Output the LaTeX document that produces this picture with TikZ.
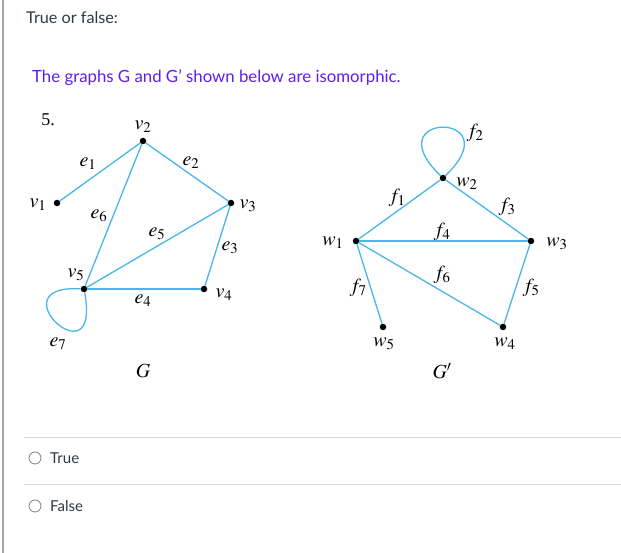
\documentclass[tikz,border=0pt]{standalone}
\usepackage{mathptmx}
\usepackage{fontspec}
\setmainfont{Lato}
\newfontfamily\timesfont{Liberation Serif}
\definecolor{edgeblue}{RGB}{72,182,232}
\definecolor{qblue}{RGB}{95,30,240}
\definecolor{rulegray}{RGB}{218,218,218}
\definecolor{textgray}{RGB}{45,59,69}

\begin{document}
\begin{tikzpicture}[x=1pt,y=-1pt,
	dot/.style={circle,fill=black,inner sep=0pt,minimum size=6.5pt},
	edge/.style={color=edgeblue,line width=1.3pt},
	lbl/.style={font=\fontsize{20}{22}\selectfont,inner sep=0pt},
	radio/.style={circle,draw=gray,line width=0.8pt,minimum size=12pt,inner sep=0pt}]

\useasboundingbox (0,0) rectangle (621,553);
\fill[white] (0,0) rectangle (621,553);
\draw[color=gray!70,line width=1.5pt] (3,0) -- (3,553);

% question text
\node[anchor=base west,inner sep=0pt,text=textgray,font=\fontsize{16.2}{19}\selectfont] (title) at (26,24) {True or false:};
\node[anchor=base west,inner sep=0pt,text=qblue,font=\fontsize{16.8}{19}\selectfont] (claim) at (32,83) {The graphs G and G' shown below are isomorphic.};

% graph G
\node[font=\timesfont\fontsize{18}{20}\selectfont] (num) at (48,120) {5.};

\foreach \n/\x/\y in {v1/57/203,v2/143/141,v3/231/203,v4/204/289,v5/84/289}
{
	\node[dot] (\n) at (\x,\y) {};
}

\foreach \n/\x/\y/\t in {lv1/38/205/v_1,lv2/143/127/v_2,lv3/248/206/v_3,lv4/224/295/v_4,lv5/76/275/v_5}
{
	\node[lbl] (\n) at (\x,\y) {$\t$};
}

\draw[edge] (v1) -- (v2);
\draw[edge] (v2) -- (v3);
\draw[edge] (v3) -- (v4);
\draw[edge] (v4) -- (v5);
\draw[edge] (v5) -- (v3);
\draw[edge] (v5) -- (v2);
\draw[edge] (v5) .. controls +(-90,-5) and +(18,95) .. (v5);

\foreach \n/\x/\y/\t in {le1/88/164/e_1,le2/191/163/e_2,le3/230/248/e_3,le4/143/301/e_4,le5/157/234/e_5,le6/99/216/e_6,le7/58/344/e_7}
{
	\node[lbl] (\n) at (\x,\y) {$\t$};
}

\node[lbl] (gname) at (143,371) {$G$};

% graph G'
\foreach \n/\x/\y in {w1/356/241,w2/443/178,w3/531/241,w4/503/327,w5/383/327}
{
	\node[dot] (\n) at (\x,\y) {};
}

\foreach \n/\x/\y/\t in {lw1/333/243/w_1,lw2/467/184/w_2,lw3/557/244/w_3,lw4/505/344/w_4,lw5/384/344/w_5}
{
	\node[lbl] (\n) at (\x,\y) {$\t$};
}

\draw[edge] (w1) -- (w2);
\draw[edge] (w2) .. controls +(-70,-67) and +(70,-67) .. (w2);
\draw[edge] (w2) -- (w3);
\draw[edge] (w1) -- (w3);
\draw[edge] (w3) -- (w4);
\draw[edge] (w1) -- (w4);
\draw[edge] (w1) -- (w5);

\foreach \n/\x/\y/\t in {lf1/397/198/f_1,lf2/475/133/f_2,lf3/507/207/f_3,lf4/442/232/f_4,lf5/531/288/f_5,lf6/442/275/f_6,lf7/358/288/f_7}
{
	\node[lbl] (\n) at (\x,\y) {$\t$};
}

\node[lbl] (gpname) at (442,371) {$G'$};

% answers
\draw[rulegray] (24,437) -- (621,437);
\draw[rulegray] (24,484) -- (621,484);

\node[radio] (rtrue) at (35,458) {};
\node[anchor=west,inner sep=0pt,text=textgray,font=\fontsize{15}{18}\selectfont] (ttrue) at (50,458) {True};
\node[radio] (rfalse) at (35,506) {};
\node[anchor=west,inner sep=0pt,text=textgray,font=\fontsize{15}{18}\selectfont] (tfalse) at (50,506) {False};
\end{tikzpicture}
\end{document}
